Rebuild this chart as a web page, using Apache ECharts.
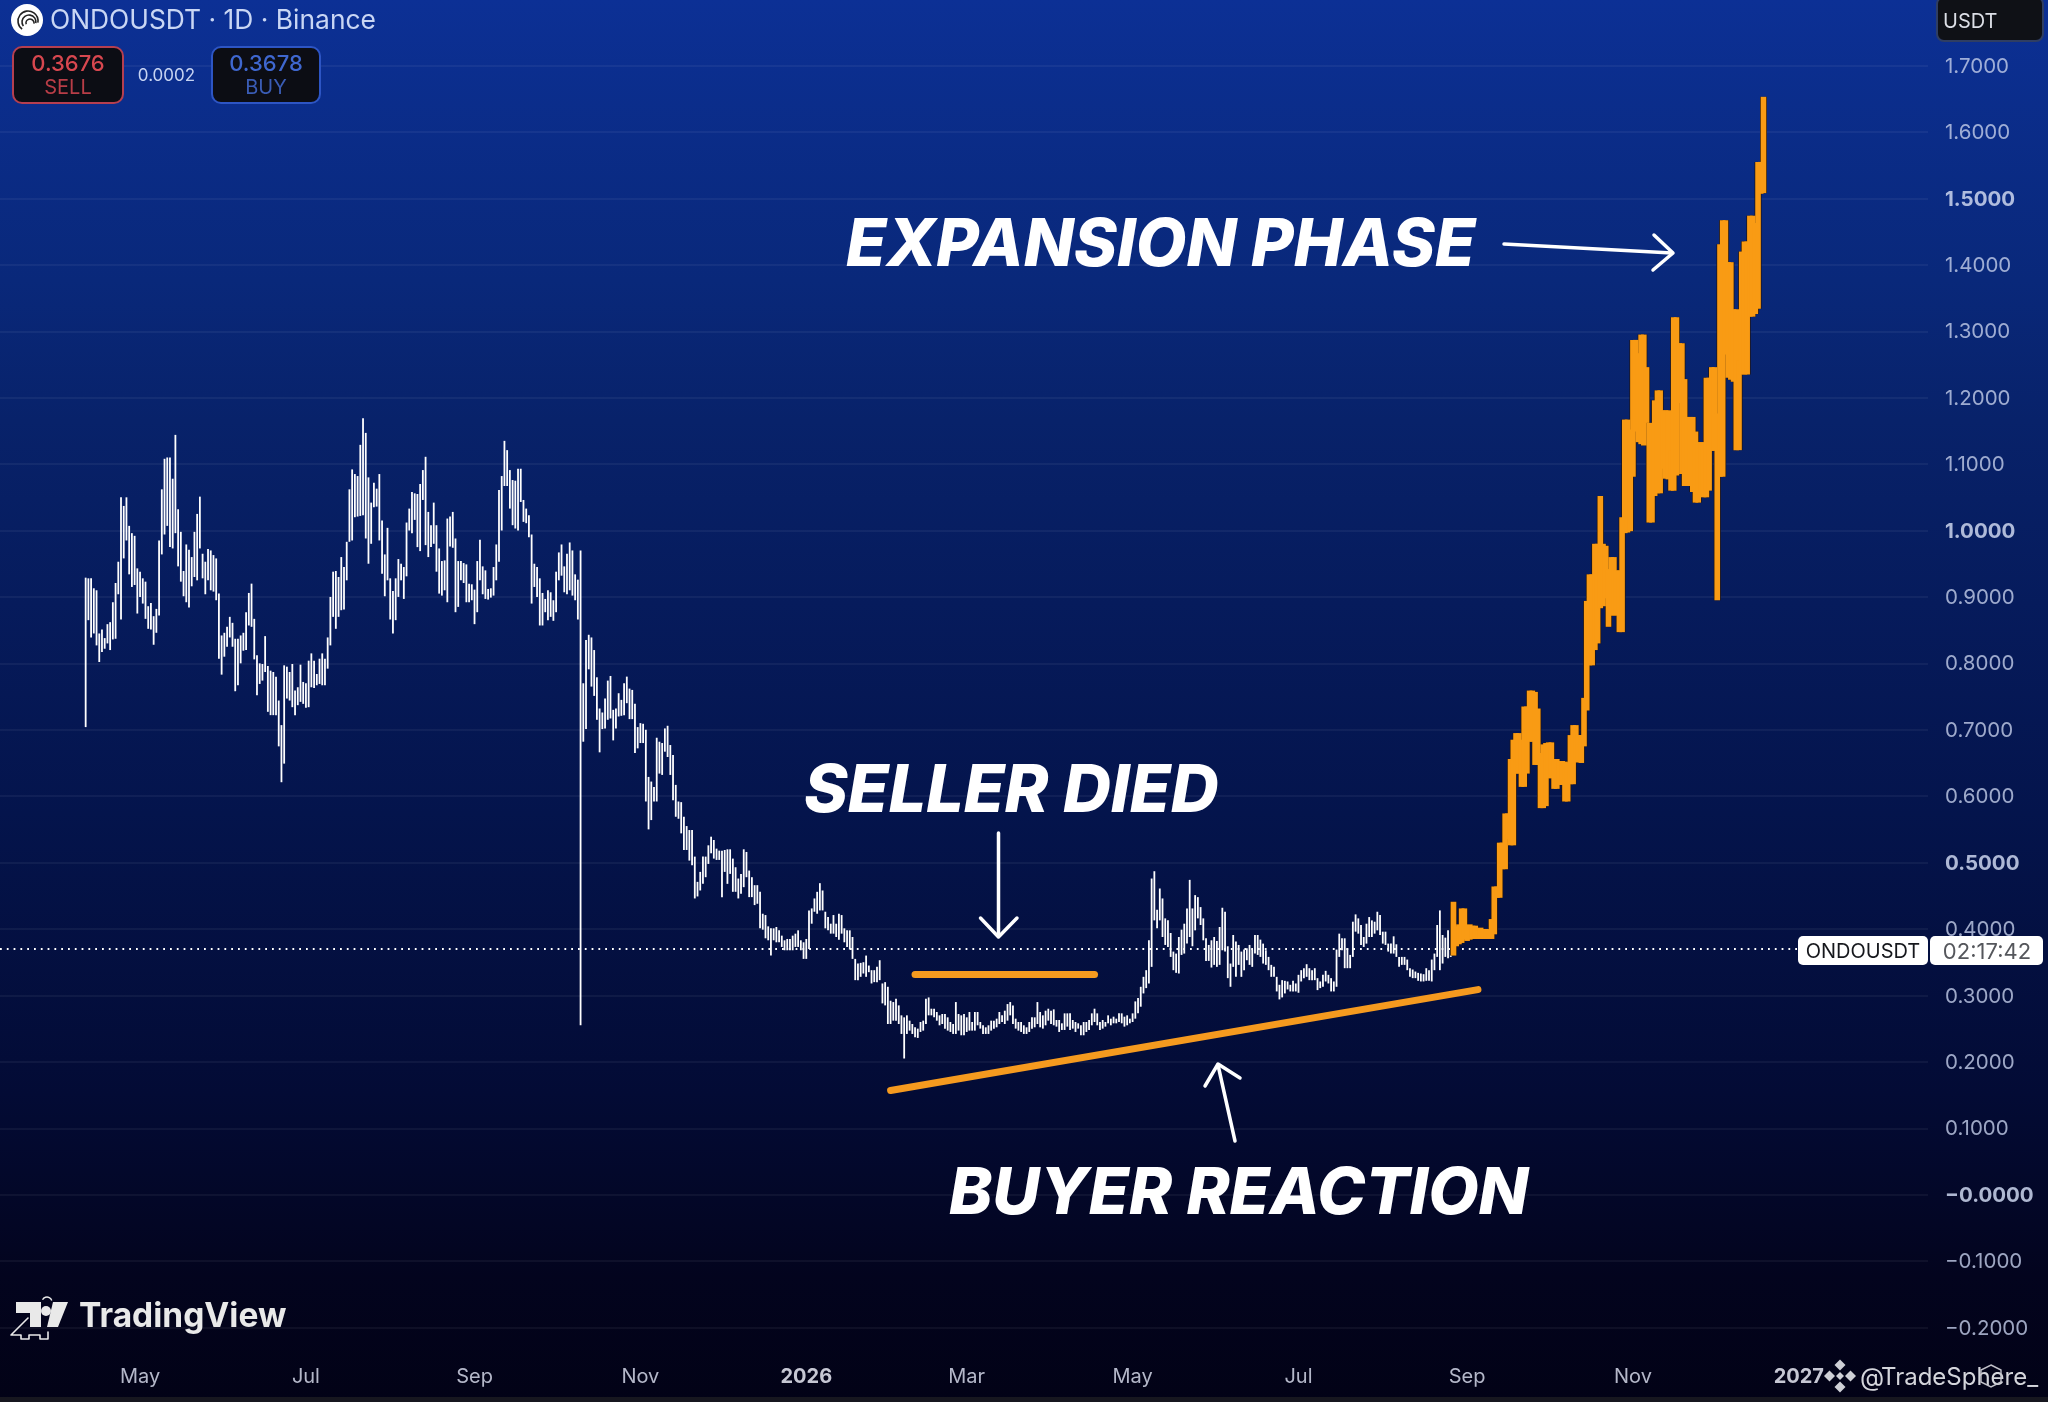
<!DOCTYPE html>
<html><head><meta charset="utf-8">
<style>html,body{margin:0;padding:0;background:#020216}#c{width:2048px;height:1402px}</style>
<script src="https://cdn.jsdelivr.net/npm/echarts@6/dist/echarts.min.js"></script>
</head><body><div id="c"></div>
<script>
// [high, low] per daily bar
const whiteBarsA=[[.929,.704],[.928,.865],[.928,.839],[.913,.845],[.910,.827],[.845,.802],[.851,.817],[.838,.822],[.859,.830],[.862,.820],[.892,.836],[.921,.837],[.953,.904],[1.050,.866],[1.037,.958],[1.050,.985],[1.007,.934],[.996,.915],[.992,.918],[.943,.875],[.938,.900],[.928,.890],[.923,.867],[.886,.852],[.891,.851],[.871,.828],[.882,.846],[.985,.872],[1.062,.964],[1.108,.994],[1.110,1.007],[1.110,.975],[1.078,.973],[1.144,.996],[1.032,.946],[.998,.923],[.939,.901],[.979,.892],[.971,.884],[.960,.916],[.998,.930],[1.025,.925],[1.051,.973],[.965,.928],[.953,.904],[.972,.925],[.970,.910],[.963,.908],[.958,.895],[.905,.807],[.842,.783],[.846,.810],[.855,.825],[.870,.839],[.861,.825],[.837,.758],[.837,.767],[.842,.800],[.846,.819],[.877,.820],[.906,.857],[.920,.855],[.867,.806],[.812,.752],[.800,.769],[.799,.774],[.841,.787],[.796,.727],[.789,.722],[.787,.722],[.780,.722],[.744,.675],[.707,.621],[.797,.649],[.795,.747],[.787,.744],[.799,.734],[.759,.722],[.764,.737],[.798,.742],[.772,.739],[.770,.733],[.804,.734],[.815,.764],[.804,.763],[.784,.767],[.807,.769],[.815,.767],[.807,.767],[.839,.792],[.900,.827],[.938,.870],[.939,.852],[.930,.870],[.960,.880],[.945,.881],[.983,.925],[1.062,.983],[1.092,.985],[1.085,1.020]];
const whiteBarsB=[[1.082,1.021],[1.129,1.022],[1.169,1.023],[1.147,.988],[1.080,.950],[1.042,.980],[1.072,1.035],[1.063,1.036],[1.085,.985],[1.015,.935],[.964,.901],[1.004,.925],[.928,.866],[.909,.845],[.928,.865],[.957,.900],[.950,.925],[.945,.897],[1.012,.931],[1.033,1.000],[1.058,.996],[1.056,1.016],[1.055,.975],[1.070,.969],[1.091,1.046],[1.111,.978],[1.028,.960],[1.008,.975],[1.042,.980],[1.008,.938],[.973,.905],[.954,.902],[.955,.910],[1.018,.892],[1.021,.976],[1.028,.974],[.988,.877],[.954,.885],[.954,.925],[.951,.921],[.949,.892],[.920,.892],[.919,.895],[.911,.859],[.954,.877],[.986,.925],[.946,.904],[.940,.897],[.912,.896],[.913,.899],[.945,.902],[.979,.925],[1.061,.953],[1.082,1.000],[1.135,1.067],[1.121,1.067],[1.091,1.033],[1.076,1.008],[1.075,1.003],[1.093,1.000],[1.093,1.043],[1.046,1.013],[1.033,1.011],[1.023,.990],[.994,.890],[.950,.915],[.945,.900],[.928,.857],[.906,.857],[.897,.877],[.910,.865],[.907,.870],[.895,.864],[.938,.877],[.967,.925],[.979,.932],[.946,.907],[.965,.904],[.982,.910],[.970,.902],[.934,.895],[.926,.866],[.970,.255],[.770,.682],[.835,.701],[.843,.791],[.839,.765],[.820,.751],[.779,.715],[.732,.666],[.726,.701],[.747,.702],[.774,.715],[.781,.717],[.730,.684],[.732,.702],[.755,.720],[.745,.721],[.770,.722],[.780,.740]];
const whiteBarsC=[[.762,.716],[.760,.716],[.739,.665],[.704,.672],[.710,.680],[.709,.680],[.700,.592],[.629,.550],[.622,.564],[.614,.592],[.688,.592],[.682,.634],[.680,.632],[.702,.667],[.706,.659],[.677,.632],[.662,.594],[.617,.569],[.592,.566],[.591,.544],[.569,.519],[.555,.519],[.549,.503],[.549,.496],[.509,.446],[.471,.449],[.486,.458],[.509,.468],[.509,.478],[.526,.498],[.539,.514],[.534,.506],[.521,.504],[.518,.504],[.518,.448],[.519,.486],[.520,.468],[.520,.483],[.506,.456],[.493,.456],[.476,.446],[.483,.453],[.520,.463],[.516,.478],[.488,.448],[.478,.448],[.466,.436],[.466,.438],[.456,.401],[.423,.399],[.421,.386],[.404,.383],[.401,.360],[.401,.383],[.403,.380],[.398,.380],[.390,.373],[.383,.368],[.385,.368],[.385,.368],[.390,.368],[.393,.373],[.398,.373],[.383,.368],[.380,.355],[.385,.355],[.428,.370],[.431,.408],[.446,.426],[.456,.423],[.469,.428],[.458,.428],[.426,.401],[.418,.398],[.408,.393],[.421,.393],[.408,.388],[.423,.384],[.421,.393],[.401,.380],[.398,.373],[.398,.369],[.388,.355],[.355,.323],[.348,.323],[.349,.328],[.350,.333],[.360,.328],[.345,.335],[.338,.318],[.338,.320],[.343,.320],[.353,.323],[.318,.288],[.320,.285],[.313,.257],[.292,.257],[.290,.262],[.295,.262],[.285,.257]];
const whiteBarsD=[[.270,.242],[.267,.205],[.270,.242],[.262,.247],[.257,.242],[.252,.237],[.250,.236],[.260,.245],[.262,.247],[.295,.257],[.297,.270],[.280,.270],[.280,.267],[.275,.262],[.270,.255],[.272,.257],[.272,.250],[.267,.247],[.260,.245],[.257,.242],[.290,.242],[.272,.247],[.270,.240],[.272,.240],[.267,.245],[.275,.247],[.260,.247],[.275,.247],[.275,.255],[.260,.250],[.255,.242],[.252,.242],[.255,.242],[.262,.247],[.262,.250],[.265,.252],[.275,.257],[.270,.260],[.277,.257],[.287,.262],[.290,.270],[.285,.257],[.265,.250],[.260,.247],[.260,.245],[.255,.242],[.252,.242],[.260,.245],[.267,.250],[.267,.252],[.290,.257],[.275,.252],[.270,.250],[.277,.255],[.280,.262],[.277,.257],[.279,.255],[.263,.253],[.263,.245],[.258,.248],[.273,.248],[.273,.253],[.273,.248],[.263,.250],[.260,.245],[.258,.250],[.255,.240],[.260,.240],[.260,.245],[.263,.248],[.273,.255],[.280,.260],[.273,.255],[.260,.248],[.263,.250],[.260,.253],[.270,.258],[.265,.255],[.268,.258],[.265,.258],[.273,.260],[.273,.258],[.268,.253],[.270,.255],[.265,.258],[.273,.260],[.291,.265],[.296,.273],[.313,.283],[.328,.303],[.338,.311],[.383,.318],[.476,.343],[.487,.413],[.429,.401],[.461,.413],[.446,.388],[.416,.376],[.413,.373],[.394,.358]];
const whiteBarsE=[[.366,.338],[.363,.334],[.388,.333],[.399,.361],[.408,.363],[.431,.378],[.474,.388],[.431,.374],[.451,.398],[.448,.416],[.433,.406],[.416,.383],[.386,.352],[.376,.352],[.383,.342],[.388,.346],[.382,.343],[.403,.346],[.432,.368],[.426,.366],[.374,.326],[.348,.313],[.391,.343],[.381,.328],[.376,.346],[.366,.328],[.369,.338],[.371,.353],[.376,.346],[.369,.343],[.391,.363],[.391,.361],[.384,.358],[.378,.348],[.368,.346],[.358,.338],[.346,.328],[.343,.328],[.328,.306],[.316,.294],[.323,.297],[.322,.303],[.321,.309],[.316,.306],[.322,.306],[.318,.306],[.331,.304],[.338,.321],[.341,.326],[.347,.328],[.341,.323],[.338,.323],[.341,.323],[.326,.308],[.321,.311],[.331,.313],[.337,.321],[.331,.318],[.326,.306],[.321,.306],[.369,.313],[.393,.358],[.386,.368],[.386,.341],[.371,.341],[.361,.341],[.411,.358],[.422,.396],[.416,.393],[.406,.376],[.388,.373],[.408,.378],[.418,.388],[.413,.388],[.411,.393],[.426,.398],[.421,.391],[.396,.378],[.396,.376],[.378,.366],[.378,.363],[.389,.363],[.377,.358],[.358,.343],[.358,.346],[.358,.346],[.354,.338],[.341,.328],[.339,.326],[.336,.326],[.334,.322],[.333,.321],[.332,.321],[.341,.322],[.338,.322],[.354,.321],[.363,.338],[.406,.358],[.428,.338],[.391,.348],[.387,.358],[.398,.356],[.368,.358]];
const orangeBarsA=[[.441,.360],[.404,.374],[.407,.377],[.431,.379],[.431,.384],[.405,.382],[.407,.384],[.405,.385],[.405,.385],[.398,.385],[.402,.385],[.400,.385],[.400,.385],[.399,.385],[.415,.385],[.464,.392],[.464,.447],[.530,.447],[.530,.490],[.574,.490],[.574,.535],[.656,.526],[.685,.526],[.695,.634],[.695,.634],[.685,.614],[.735,.614],[.735,.634],[.759,.682],[.759,.682],[.757,.647],[.732,.647],[.665,.582],[.678,.582],[.680,.585],[.681,.627],[.681,.627],[.655,.611],[.656,.611],[.653,.617],[.653,.617],[.652,.592],[.651,.592],[.692,.618],[.707,.618],[.707,.651],[.692,.651],[.692,.650],[.748,.675],[.894,.729],[.934,.797],[.934,.797],[.980,.820],[.980,.830],[1.052,.883],[.980,.886],[.977,.898],[.942,.855]];
const orangeBarsB=[[.960,.872],[.960,.872],[.940,.872],[.940,.847],[1.020,.847],[1.167,.996],[1.167,.997],[1.152,.999],[1.287,1.081],[1.287,1.149],[1.267,1.133],[1.295,1.130],[1.295,1.128],[1.246,1.162],[1.162,1.012],[1.162,1.012],[1.196,1.052],[1.211,1.056],[1.211,1.056],[1.181,1.093],[1.181,1.078],[1.181,1.077],[1.120,1.060],[1.321,1.060],[1.321,1.083],[1.282,1.192],[1.282,1.085],[1.228,1.067],[1.171,1.067],[1.171,1.085],[1.171,1.058],[1.149,1.042],[1.133,1.042],[1.133,1.058],[1.133,1.050],[1.230,1.050],[1.230,1.060],[1.246,1.120],[1.246,1.120],[1.176,.895],[1.431,1.081],[1.467,1.081],[1.467,1.265],[1.404,1.230],[1.404,1.227],[1.333,1.224],[1.333,1.121],[1.256,1.121],[1.420,1.235],[1.435,1.235],[1.435,1.235],[1.474,1.322],[1.474,1.322],[1.463,1.326],[1.555,1.334],[1.555,1.507],[1.653,1.508]];
const firstBarDay='2025-04-11';
const axisFirstDay=[2025,2,11], axisDayCount=709;
const xTickDays=['2025-05-01','2025-07-01','2025-09-01','2025-11-01','2026-01-01','2026-03-01','2026-05-01','2026-07-01','2026-09-01','2026-11-01','2027-01-01'];
const xTickNames=['May','Jul','Sep','Nov','2026','Mar','May','Jul','Sep','Nov','2027'];
const yBoldTicks=[1.5,1.0,0.5,0];
const lastPrice=0.3676;
const sellerLine=[['2026-02-10',.3315],['2026-04-17',.3315]];
const buyerLine=[['2026-02-01',.1568],['2026-09-05',.3088]];

const days=[];
for(let i=0;i<axisDayCount;i++)days.push(new Date(Date.UTC(axisFirstDay[0],axisFirstDay[1],axisFirstDay[2]+i)).toISOString().slice(0,10));
const startIdx=days.indexOf(firstBarDay);
const whiteBars=[...whiteBarsA,...whiteBarsB,...whiteBarsC,...whiteBarsD,...whiteBarsE];
const orangeBars=[...orangeBarsA,...orangeBarsB];
const whiteData=whiteBars.map((b,i)=>[days[startIdx+i],b[0],b[1]]);
const orangeData=orangeBars.map((b,i)=>[days[startIdx+whiteBars.length+i],b[0],b[1]]);
function barRenderer(w,color){return function(p,api){
  const x=api.value(0),t=api.coord([x,api.value(1)]),b=api.coord([x,api.value(2)]);
  return {type:'rect',shape:{x:t[0]-w/2,y:t[1],width:w,height:b[1]-t[1]},style:{fill:color}};
};}
function barSeries(data,w,color,z,extra){return Object.assign({type:'custom',data,z,encode:{x:0,y:[1,2]},clip:false,silent:true,animation:false,renderItem:barRenderer(w,color)},extra||{});}
function markLineSeries(data,w){return {type:'line',data,symbol:'none',z:8,silent:true,animation:false,lineStyle:{color:'#f59a1f',width:w,cap:'round'}};}

const F='Inter';
function txt(x,y,text,size,fill,weight,align,extra){return {type:'text',z:30,x,y,style:Object.assign({text,font:`${weight||400} ${size}px ${F}`,fill,textAlign:align||'left',textVerticalAlign:'middle'},extra||{})};}
function box(x,y,w,h,r,fill,stroke,lw){return {type:'rect',z:29,shape:{x,y,width:w,height:h,r},style:{fill,stroke,lineWidth:lw===undefined?2:lw}};}
function pline(pts,color,lw){return {type:'polyline',z:20,shape:{points:pts},style:{stroke:color,lineWidth:lw,fill:null,lineCap:'round',lineJoin:'round'}};}
function poly(pts,fill,z){return {type:'polygon',z:z||30,shape:{points:pts},style:{fill}};}
function arc(cx,cy,r,a,b,color,lw){return {type:'arc',z:31,shape:{cx,cy,r,startAngle:a,endAngle:b},style:{stroke:color,lineWidth:lw,fill:null}};}
function headline(x,y,text,size){return {type:'text',z:25,x,y,style:{text,font:`italic 800 ${size}px ${F}`,fill:'#ffffff',textAlign:'left',textVerticalAlign:'middle'}};}
function diamond(cx,cy,r,fill){return poly([[cx,cy-r],[cx+r,cy],[cx,cy+r],[cx-r,cy]],fill,31);}

const graphicEls=[
  {type:'rect',z:1,shape:{x:0,y:1397,width:2048,height:5},style:{fill:'#17171f'}},
  // header
  {type:'circle',z:30,shape:{cx:27,cy:20,r:16},style:{fill:'#fff'}},
  arc(28,21,10,Math.PI*0.7,Math.PI*2.05,'#222',1.6),arc(29,22,7,Math.PI*0.8,Math.PI*2.05,'#222',1.6),arc(30,23,4,Math.PI*0.9,Math.PI*2.05,'#222',1.6),
  txt(50,21.5,'ONDOUSDT · 1D · Binance',26.4,'#c9d6f4',400),
  box(13,47,110,56,9,'#0c0d14','#b53f50',2),
  txt(68,64.5,'0.3676',22,'#d8474f',500,'center'),
  txt(68,88,'SELL',20,'#b93d47',400,'center'),
  txt(166.5,76,'0.0002',17,'#c6d3f2',400,'center'),
  box(212,47,108,56,9,'#0c0d14','#2d55c4',2),
  txt(266,64.5,'0.3678',22,'#3f67cf',500,'center'),
  txt(266,88,'BUY',20,'#3a5cb5',400,'center'),
  box(1937,-3,106,44,7,'#0f1116','#2f3e63',2),
  txt(1943,22,'USDT',20,'#dcdfe6',400),
  pline([[2027,19],[2032,23],[2037,19]],'#dcdfe6',2),
  // headlines
  headline(846,246,'EXPANSION PHASE',65.5),
  headline(804,792.5,'SELLER DIED',66.3),
  headline(949,1194.5,'BUYER REACTION',65.2),
  // arrows
  pline([[1504,244],[1672,253]],'#fff',3.5),pline([[1654,235],[1673,253],[1653,270]],'#fff',3.5),
  pline([[998.5,833],[998.5,936]],'#fff',3.5),pline([[980.5,918],[998.5,937],[1017,918]],'#fff',3.5),
  pline([[1235,1141],[1218,1065]],'#fff',3.5),pline([[1205,1086],[1218,1064],[1240,1078]],'#fff',3.5),
  // price tag
  box(1798,936,130,29,5,'#ffffff','#ffffff',0),
  box(1930,936,113,29,5,'#ffffff','#ffffff',0),
  txt(1863,952,'ONDOUSDT',20,'#15171c',400,'center'),
  txt(1987,952,'02:17:42',22,'#55575c',400,'center'),
  // TradingView logo
  poly([[16,1302],[41,1302],[41,1327],[30,1327],[30,1313],[16,1313]],'#e9e9e9'),
  {type:'circle',z:30,shape:{cx:46,cy:1311,r:5},style:{fill:'#e9e9e9'}},
  poly([[53,1302],[68,1302],[58,1327],[47,1327]],'#e9e9e9'),
  arc(47,1302,5,Math.PI*1.15,Math.PI*1.9,'#e9e9e9',1.4),
  pline([[28,1318],[11,1335],[21,1335],[21,1339],[29,1339],[29,1335],[40,1335],[40,1339],[48,1339],[48,1332]],'#e9e9e9',1.6),
  txt(79,1316.5,'TradingView',33.5,'#e9e9e9',700,'left'),
  // watermark
  diamond(1840,1365,5.5,'#cfd0d6'),diamond(1829.5,1376,5.5,'#cfd0d6'),diamond(1850.5,1376,5.5,'#cfd0d6'),diamond(1840,1376,4,'#cfd0d6'),diamond(1840,1387,5.5,'#cfd0d6'),
  txt(1860,1378,'@',25,'#d4d5db',400),
  txt(1881,1378,'TradeSphere_',24,'#d4d5db',400),
  {type:'polygon',z:32,shape:{points:[[1991,1365],[2001,1370],[2001,1382],[1991,1387],[1981,1382],[1981,1370]]},style:{fill:null,stroke:'#c0c0c8',lineWidth:1.4}}
];

const chart=echarts.init(document.getElementById('c'),null,{renderer:'canvas',width:2048,height:1402});
chart.setOption({
  animation:false,
  backgroundColor:new echarts.graphic.LinearGradient(0,0,0,1,[
    {offset:0,color:'#0c3095'},{offset:.2,color:'#09287a'},{offset:.3,color:'#08226a'},{offset:.43,color:'#061b5c'},
    {offset:.58,color:'#04144c'},{offset:.78,color:'#030b35'},{offset:.91,color:'#03041e'},{offset:1,color:'#020216'}]),
  grid:{left:0,top:65.6,width:1928,height:1261.9},
  xAxis:{type:'category',data:days,boundaryGap:true,
    axisLine:{show:false},axisTick:{show:false},splitLine:{show:false},
    axisLabel:{interval:(i,v)=>xTickDays.includes(v),margin:39,hideOverlap:false,
      fontFamily:F,fontSize:20,color:'rgba(205,208,225,.88)',
      formatter:v=>{const n=xTickNames[xTickDays.indexOf(v)];return n&&n.length===4?'{b|'+n+'}':n;},
      rich:{b:{fontFamily:F,fontSize:20,fontWeight:700,color:'rgba(215,216,228,.92)'}}}},
  yAxis:{type:'value',position:'right',min:-0.2,max:1.7,interval:0.1,
    axisLine:{show:false},axisTick:{show:false},
    splitLine:{show:true,lineStyle:{color:'rgba(255,255,255,.07)',width:1.5}},
    axisLabel:{margin:17,align:'left',padding:[2,0,0,0],fontFamily:F,fontSize:20.5,color:'rgba(196,206,234,.8)',
      formatter:val=>{const v=Math.round(val*10)/10;const s=(v<=0?'\u2212':'')+Math.abs(v).toFixed(4);return yBoldTicks.includes(v)?'{b|'+s+'}':s;},
      rich:{b:{fontFamily:F,fontSize:20.5,fontWeight:700,color:'rgba(205,214,238,.85)'}}}},
  series:[
    Object.assign(barSeries(whiteData,1.8,'#ffffff',5),{markLine:{silent:true,symbol:'none',animation:false,label:{show:false},lineStyle:{color:'#ffffff',width:1.8,type:[1.8,5]},data:[{yAxis:lastPrice}]}}),
    barSeries(orangeData,7,'#221510',6),
    barSeries(orangeData,5.6,'#f99b14',7),
    markLineSeries(sellerLine,7),
    markLineSeries(buyerLine,7)
  ],
  graphic:{elements:graphicEls}
});
</script></body></html>
